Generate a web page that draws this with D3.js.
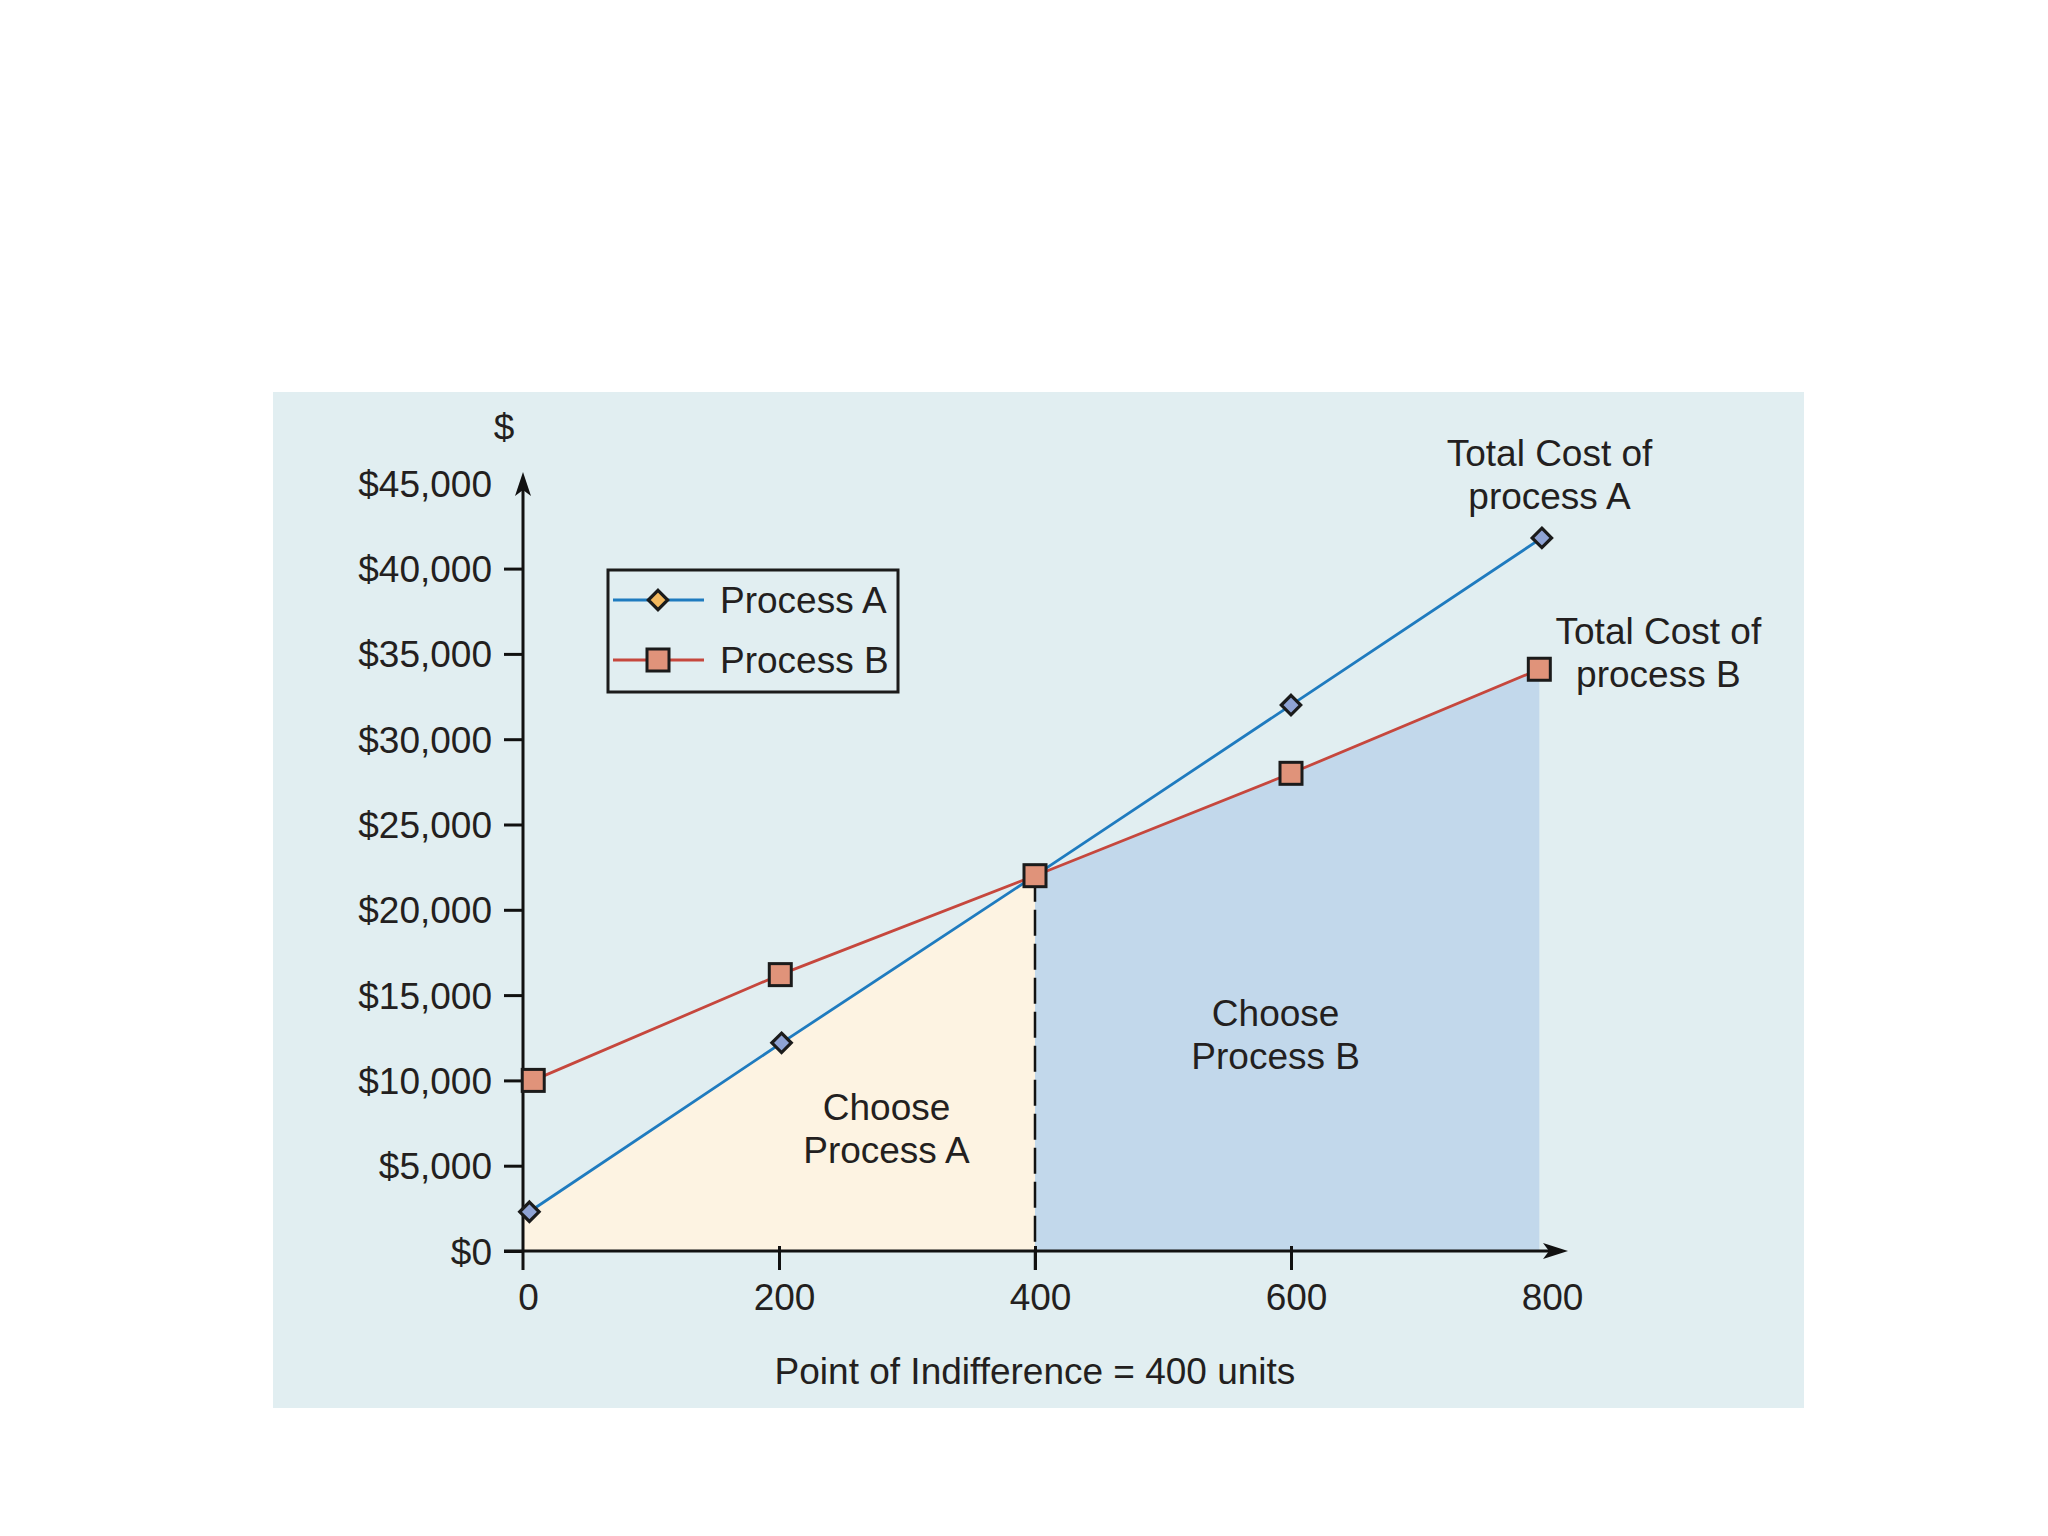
<!DOCTYPE html>
<html>
<head>
<meta charset="utf-8">
<script src="https://cdn.jsdelivr.net/npm/d3@7"></script>
<style>
  html, body { margin: 0; padding: 0; background: #ffffff; }
  svg { display: block; }
  text { font-family: "Liberation Sans", Arial, Helvetica, sans-serif; fill: #231f20; }
</style>
</head>
<body>
<div id="chart"></div>
<script>
// data
const unitsA = [5, 202, 400, 600, 796];
const costA = [2300, 12200, 22000, 32000, 41800];
const unitsB = [8, 201, 400, 600, 794];
const costB = [10000, 16200, 22000, 28000, 34100];
const seriesNames = ["Process A", "Process B"];

const xTicks = [0, 200, 400, 600, 800];
const yTicks = [0, 5000, 10000, 15000, 20000, 25000, 30000, 35000, 40000, 45000];
const indifference = 400;

const annotations = [
  { lines: ["Total Cost of", "process A"], x: 802, y: 46000 },
  { lines: ["Total Cost of", "process B"], x: 887, y: 35580 },
  { lines: ["Choose", "Process A"], x: 284, y: 7680 },
  { lines: ["Choose", "Process B"], x: 588, y: 13190 },
];
const xTitle = "Point of Indifference = 400 units";

const W = 2048, H = 1536;
const FS = 37;
const colA = "#1f7bbf", colB = "#c6473d";

const svg = d3.select("#chart").append("svg")
  .attr("width", W).attr("height", H);

// panel background
svg.append("rect")
  .attr("x", 273).attr("y", 392)
  .attr("width", 1531).attr("height", 1016)
  .attr("fill", "#e1eef1");

const x = d3.scaleLinear().domain([0, 800]).range([523, 1547]);
const y = d3.scaleLinear().domain([0, 45000]).range([1251, 483.3]);

const ptsA = unitsA.map((u, i) => ({ u, c: costA[i] }));
const ptsB = unitsB.map((u, i) => ({ u, c: costB[i] }));

// shaded regions
const areaGen = d3.area().x(d => x(d.u)).y0(y(0)).y1(d => y(d.c));
const regionA = [{ u: 0, c: costA[0] }].concat(ptsA.filter(d => d.u <= indifference));
const regionB = ptsB.filter(d => d.u >= indifference);
svg.append("path").datum(regionA).attr("d", areaGen).attr("fill", "#fdf3e2");
svg.append("path").datum(regionB).attr("d", areaGen).attr("fill", "#c2d8eb");

// dashed indifference line
svg.append("line")
  .attr("x1", x(indifference)).attr("x2", x(indifference))
  .attr("y1", y(22000)).attr("y2", y(0) + 19)
  .attr("stroke", "#111").attr("stroke-width", 2.5)
  .attr("stroke-dasharray", "26,8");

// y axis
const yAxis = svg.append("g")
  .attr("transform", `translate(${x(0)},0)`)
  .call(d3.axisLeft(y).tickValues(yTicks).tickSize(19).tickPadding(12)
    .tickFormat(d => "$" + d3.format(",")(d)));
yAxis.select(".domain").remove();
yAxis.selectAll(".tick line").attr("stroke", "#111").attr("stroke-width", 3)
  .attr("display", d => (d === 45000 ? "none" : null));
yAxis.selectAll(".tick text")
  .attr("font-size", FS).attr("dy", 13).attr("fill", "#231f20")
  .attr("font-family", "Liberation Sans, Arial, sans-serif");

// x axis
const xAxis = svg.append("g")
  .attr("transform", `translate(0,${y(0)})`)
  .call(d3.axisBottom(x).tickValues(xTicks).tickSize(19));
xAxis.select(".domain").remove();
xAxis.selectAll(".tick line").attr("stroke", "#111").attr("stroke-width", 3)
  .attr("y1", -5)
  .attr("display", d => (d === 0 || d === 800 ? "none" : null));
xAxis.selectAll(".tick text")
  .attr("font-size", FS).attr("y", 59).attr("dy", 0).attr("dx", 5)
  .attr("fill", "#231f20")
  .attr("font-family", "Liberation Sans, Arial, sans-serif");

// axis lines with arrows
svg.append("line")
  .attr("x1", x(0)).attr("x2", x(0))
  .attr("y1", y(0) + 19).attr("y2", 478)
  .attr("stroke", "#111").attr("stroke-width", 3);
svg.append("path")
  .attr("d", `M${x(0)},472 L${x(0) - 8},496 L${x(0)},490 L${x(0) + 8},496 Z`)
  .attr("fill", "#111");
svg.append("line")
  .attr("x1", x(0) - 19).attr("x2", 1560)
  .attr("y1", y(0)).attr("y2", y(0))
  .attr("stroke", "#111").attr("stroke-width", 3);
svg.append("path")
  .attr("d", `M1568,${y(0)} L1543,${y(0) - 8} L1549,${y(0)} L1543,${y(0) + 8} Z`)
  .attr("fill", "#111");

// "$" axis label
svg.append("text")
  .attr("x", 504).attr("y", 440)
  .attr("text-anchor", "middle").attr("font-size", FS)
  .text("$");

// lines
const lineGen = d3.line().x(d => x(d.u)).y(d => y(d.c));
svg.append("path").datum(ptsA).attr("d", lineGen)
  .attr("fill", "none").attr("stroke", colA).attr("stroke-width", 2.8);
svg.append("path").datum(ptsB).attr("d", lineGen)
  .attr("fill", "none").attr("stroke", colB).attr("stroke-width", 2.8);

// markers
const diamond = d3.symbol().type(d3.symbolDiamond2).size(240);
svg.append("g").selectAll("path")
  .data(ptsA).join("path")
  .attr("d", diamond)
  .attr("transform", d => `translate(${x(d.u)},${y(d.c)})`)
  .attr("fill", "#8fa3d4").attr("stroke", "#1b1b1b").attr("stroke-width", 3.2);

svg.append("g").selectAll("rect")
  .data(ptsB).join("rect")
  .attr("x", d => x(d.u) - 11).attr("y", d => y(d.c) - 11)
  .attr("width", 22).attr("height", 22)
  .attr("fill", "#e0937a").attr("stroke", "#1b1b1b").attr("stroke-width", 3);

// annotations
annotations.forEach(a => {
  const t = svg.append("text")
    .attr("x", x(a.x)).attr("y", y(a.y))
    .attr("text-anchor", "middle").attr("font-size", FS);
  a.lines.forEach((ln, i) => {
    t.append("tspan").attr("x", x(a.x)).attr("dy", i === 0 ? 0 : 43).text(ln);
  });
});

// x axis title
svg.append("text")
  .attr("x", x(indifference)).attr("y", 1384)
  .attr("text-anchor", "middle").attr("font-size", FS)
  .text(xTitle);

// legend
const lg = svg.append("g").attr("transform", "translate(608,570)");
lg.append("rect")
  .attr("width", 290).attr("height", 122)
  .attr("fill", "#e1eef1").attr("stroke", "#1b1b1b").attr("stroke-width", 3);
seriesNames.forEach((name, i) => {
  const row = lg.append("g").attr("transform", `translate(0,${30 + i * 60})`);
  row.append("line")
    .attr("x1", 5).attr("x2", 96).attr("y1", 0).attr("y2", 0)
    .attr("stroke", i === 0 ? colA : colB).attr("stroke-width", 2.8);
  if (i === 0) {
    row.append("path")
      .attr("d", diamond)
      .attr("transform", "translate(50,0)")
      .attr("fill", "#f3b85e").attr("stroke", "#1b1b1b").attr("stroke-width", 3.2);
  } else {
    row.append("rect")
      .attr("x", 39).attr("y", -11).attr("width", 22).attr("height", 22)
      .attr("fill", "#e0937a").attr("stroke", "#1b1b1b").attr("stroke-width", 3);
  }
  row.append("text")
    .attr("x", 112).attr("y", 13)
    .attr("font-size", FS)
    .text(name);
});
</script>
</body>
</html>
